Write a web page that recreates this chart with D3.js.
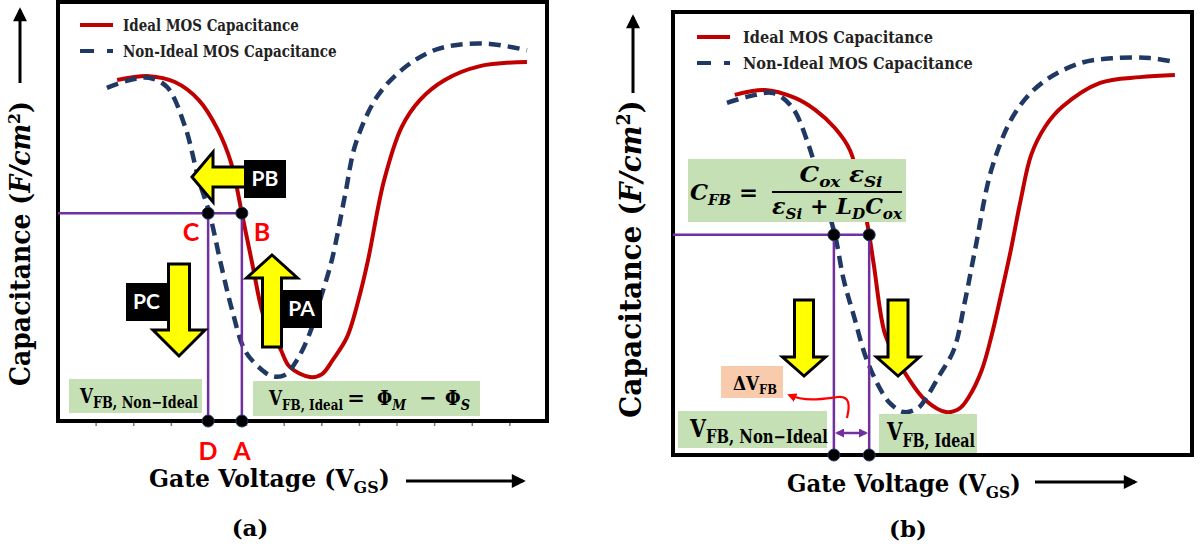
<!DOCTYPE html>
<html>
<head>
<meta charset="utf-8">
<script src="https://cdn.jsdelivr.net/npm/d3@7"></script>
<style>
body { margin: 0; background: #fff; }
svg { display: block; }
</style>
</head>
<body>
<script>
// C-V curves, gate voltage and capacitance both normalised to 0..100
// panel (a)
var idealA_v = [12.1, 18.6, 23.9, 28.8, 32.7, 35.4, 37.6, 39.7, 42.3, 45.4, 47.4, 51.5, 54.0, 56.2, 59.1, 61.8, 63.4, 66.7, 70.3, 74.0, 79.1, 86.3, 95.9];
var idealA_c = [81.4, 82.3, 80.9, 76.6, 69.5, 61.6, 49.6, 37.7, 24.1, 17.4, 12.9, 10.5, 11.2, 14.6, 20.0, 30.5, 38.4, 57.5, 70.2, 76.6, 81.4, 84.7, 85.7];
var nonIdealA_v = [10.0, 14.7, 18.6, 22.3, 26.0, 28.8, 30.9, 33.5, 35.6, 38.2, 41.3, 43.8, 46.4, 48.9, 51.5, 53.6, 56.0, 58.7, 60.9, 65.2, 70.3, 76.1, 81.2, 88.3, 95.9];
var nonIdealA_c = [79.5, 81.4, 81.9, 79.7, 70.2, 57.5, 49.9, 36.5, 26.5, 16.9, 12.6, 10.7, 11.0, 14.6, 21.0, 28.9, 38.4, 53.9, 66.3, 77.3, 83.8, 88.1, 89.7, 90.0, 88.5];
// panel (b)
var idealB_v = [11.9, 17.7, 23.5, 27.4, 31.2, 34.1, 36.4, 37.8, 38.7, 40.8, 43.0, 45.3, 48.6, 52.6, 55.3, 57.0, 59.5, 61.5, 63.4, 65.1, 67.0, 69.0, 71.7, 75.0, 82.3, 90.0, 96.7];
var idealB_c = [81.3, 82.4, 80.6, 77.9, 73.8, 68.8, 58.7, 49.7, 42.9, 27.5, 21.9, 17.4, 12.4, 9.7, 10.6, 13.1, 19.2, 27.5, 37.2, 46.3, 57.6, 67.7, 74.1, 78.6, 84.0, 85.3, 85.8];
var nonIdealB_v = [10.4, 14.8, 19.3, 22.9, 26.0, 28.5, 31.2, 32.9, 34.9, 37.0, 39.3, 41.8, 44.5, 47.2, 48.9, 51.4, 54.1, 56.3, 58.2, 61.5, 65.9, 71.1, 78.6, 85.2, 91.9, 96.7];
var nonIdealB_c = [79.5, 81.0, 81.7, 78.6, 70.4, 60.5, 49.7, 39.5, 31.2, 22.6, 16.3, 11.7, 9.7, 10.6, 13.1, 18.1, 23.7, 35.0, 46.3, 65.0, 77.2, 84.0, 88.5, 89.6, 89.6, 88.7];

// flat band points [V non-ideal, V ideal, C level]
var flatBandA = [30.7, 37.6, 49.6];
var flatBandB = [31.0, 37.8, 49.7];

// faint ticks under the bottom edge of panel (a)
var ticksA = d3.range(1, 13).map(function(k) { return k * 100 / 13; });

var legendLabels = ["Ideal MOS Capacitance", "Non-Ideal MOS Capacitance"];

var RED = "#c00000", BLUE = "#203864", PURPLE = "#7030a0", GREEN = "#c5e0b4", PEACH = "#f8cbad";
var SERIF = "'DejaVu Serif', 'Liberation Serif', serif";
var SANS = "Lato, 'Open Sans', 'Liberation Sans', sans-serif";

var svg = d3.select("body").append("svg").attr("width", 1200).attr("height", 547);
svg.append("rect").attr("width", 1200).attr("height", 547).attr("fill", "#fff");

var defs = svg.append("defs");
function addMarker(id, color, w, h) {
    defs.append("marker").attr("id", id)
        .attr("viewBox", "0 0 10 10").attr("refX", 8).attr("refY", 5)
        .attr("markerWidth", w).attr("markerHeight", h)
        .attr("markerUnits", "userSpaceOnUse")
        .attr("orient", "auto-start-reverse")
        .append("path").attr("d", "M0,0L10,5L0,10z").attr("fill", color);
}
addMarker("redHead", "red", 9, 9);
addMarker("purpleHead", PURPLE, 9, 9);
addMarker("blackHead", "#000", 16, 14);

// text with runs (sub / superscripts), squeezed horizontally to a given width
function richText(g, x, y, runs, opt) {
    opt = opt || {};
    var t = g.append("text").attr("x", x).attr("y", y)
        .attr("font-family", opt.font || SERIF).attr("font-weight", "bold")
        .attr("fill", opt.fill || "#000")
        .attr("text-anchor", opt.anchor || "start");
    runs.forEach(function(r) {
        var ts = t.append("tspan").text(r.t).attr("font-size", r.s);
        if (r.dy) ts.attr("dy", r.dy);
        if (r.i) ts.attr("font-style", "italic");
    });
    if (opt.len) {
        var w = t.node().getComputedTextLength();
        var sx = w > 0 ? opt.len / w : 1;
        t.attr("transform", "translate(" + x + "," + y + ") scale(" + sx + ",1) translate(" + (-x) + "," + (-y) + ")");
    }
    return t;
}

function blockArrow(g, tx, ty, dir, len, shaftW, headW, headLen) {
    var s = shaftW / 2, h = headW / 2;
    // built pointing down, then rotated
    var pts = [[0, 0], [-h, -headLen], [-s, -headLen], [-s, -len], [s, -len], [s, -headLen], [h, -headLen]];
    var ang = {down: 0, up: 180, left: 90, right: -90}[dir];
    g.append("polygon")
        .attr("points", pts.map(function(p) { return p.join(","); }).join(" "))
        .attr("transform", "translate(" + tx + "," + ty + ") rotate(" + ang + ")")
        .attr("fill", "#ffff00").attr("stroke", "#000").attr("stroke-width", 3)
        .attr("stroke-linejoin", "miter");
}

function tagBox(g, x, y, w, h, label) {
    g.append("rect").attr("x", x).attr("y", y).attr("width", w).attr("height", h).attr("fill", "#000");
    g.append("text").attr("x", x + w / 2).attr("y", y + h / 2 + 7)
        .attr("text-anchor", "middle").attr("font-family", SANS).attr("font-weight", "bold")
        .attr("font-size", 21).attr("fill", "#fff").text(label);
}

function fillBox(g, x, y, w, h, color) {
    g.append("rect").attr("x", x).attr("y", y).attr("width", w).attr("height", h).attr("fill", color);
}

function drawPanel(p) {
    var x = d3.scaleLinear().domain([0, 100]).range([p.x0, p.x1]);
    var y = d3.scaleLinear().domain([0, 100]).range([p.y1, p.y0]);
    var line = d3.line().x(function(d) { return x(d[0]); }).y(function(d) { return y(d[1]); })
        .curve(d3.curveCatmullRom.alpha(0.5));
    var g = svg.append("g");

    if (p.ticks) {
        g.append("g").attr("transform", "translate(0," + (p.y1 + 2) + ")")
            .call(d3.axisBottom(x).tickValues(p.ticks).tickSize(3).tickFormat(""))
            .call(function(a) {
                a.select(".domain").remove();
                a.selectAll("line").attr("stroke", "#777").attr("stroke-width", 1.5);
            });
    }

    g.append("rect").attr("x", p.x0).attr("y", p.y0)
        .attr("width", p.x1 - p.x0).attr("height", p.y1 - p.y0)
        .attr("fill", "none").attr("stroke", "#000").attr("stroke-width", 4);

    // legend
    var lg = g.append("g");
    lg.append("line").attr("x1", p.leg[0]).attr("x2", p.leg[0] + 33).attr("y1", p.leg[1]).attr("y2", p.leg[1])
        .attr("stroke", RED).attr("stroke-width", 4);
    lg.append("line").attr("x1", p.leg[0]).attr("x2", p.leg[0] + 33).attr("y1", p.leg[2]).attr("y2", p.leg[2])
        .attr("stroke", BLUE).attr("stroke-width", 4).attr("stroke-dasharray", "14,13");
    richText(lg, p.leg[3], p.leg[1] + 6, [{t: legendLabels[0], s: 16}], {len: p.legLen[0], fill: "#222"});
    richText(lg, p.leg[3], p.leg[2] + 6, [{t: legendLabels[1], s: 16}], {len: p.legLen[1], fill: "#222"});

    g.append("path").datum(d3.zip(p.idealV, p.idealC)).attr("d", line)
        .attr("fill", "none").attr("stroke", RED).attr("stroke-width", 4);
    g.append("path").datum(d3.zip(p.nonV, p.nonC)).attr("d", line)
        .attr("fill", "none").attr("stroke", BLUE).attr("stroke-width", 4.5)
        .attr("stroke-dasharray", "12,7");

    var fb = p.fb;
    g.append("path")
        .attr("d", "M" + p.x0 + "," + y(fb[2]) + "H" + x(fb[1]) +
            "M" + x(fb[0]) + "," + y(fb[2]) + "V" + y(0) +
            "M" + x(fb[1]) + "," + y(fb[2]) + "V" + y(0))
        .attr("fill", "none").attr("stroke", PURPLE).attr("stroke-width", 2.5);

    return {x: x, y: y, g: g};
}

function drawDots(P, fb) {
    var pts = [[fb[0], fb[2]], [fb[1], fb[2]], [fb[0], 0], [fb[1], 0]];
    P.g.selectAll("circle.fb").data(pts).enter().append("circle").attr("class", "fb")
        .attr("cx", function(d) { return P.x(d[0]); }).attr("cy", function(d) { return P.y(d[1]); })
        .attr("r", 6).attr("fill", "#000").attr("stroke", BLUE).attr("stroke-width", 1);
}

function yLabel(tx, ty, size, len, arrowX, arrowTop, arrowBottom) {
    var g = svg.append("g").attr("transform", "translate(" + tx + "," + ty + ") rotate(-90)");
    richText(g, 0, 0, [
        {t: "Capacitance\u00a0(", s: size},
        {t: "F/cm", s: size, i: true},
        {t: "2", s: size * 0.62, dy: -size * 0.38},
        {t: ")", s: size, dy: size * 0.38}
    ], {len: len});
    svg.append("line").attr("x1", arrowX).attr("x2", arrowX).attr("y1", arrowBottom).attr("y2", arrowTop + 2)
        .attr("stroke", "#000").attr("stroke-width", 3).attr("marker-end", "url(#blackHead)");
}

function xLabel(x, y, len, arrowX0, arrowX1, arrowY) {
    richText(svg, x, y, [
        {t: "Gate Voltage (V", s: 25},
        {t: "GS", s: 17, dy: 6},
        {t: ")", s: 25, dy: -6}
    ], {len: len});
    svg.append("line").attr("x1", arrowX0).attr("x2", arrowX1 - 2).attr("y1", arrowY).attr("y2", arrowY)
        .attr("stroke", "#000").attr("stroke-width", 3).attr("marker-end", "url(#blackHead)");
}

// ---------------- panel (a)
var A = drawPanel({
    x0: 58, x1: 547, y0: 2, y1: 421,
    idealV: idealA_v, idealC: idealA_c, nonV: nonIdealA_v, nonC: nonIdealA_c,
    fb: flatBandA, ticks: ticksA,
    leg: [80, 25, 51, 123], legLen: [176, 214]
});

blockArrow(A.g, 192, 177, "left", 58, 20, 50, 21);
tagBox(A.g, 244, 160, 42, 38, "PB");
blockArrow(A.g, 179, 356, "down", 92, 21, 52, 26);
tagBox(A.g, 126, 283, 41, 38, "PC");
blockArrow(A.g, 272, 255, "up", 92, 19, 51, 23);
tagBox(A.g, 281, 290, 41, 38, "PA");

fillBox(A.g, 69, 379, 133, 34, GREEN);
richText(A.g, 80, 403, [{t: "V", s: 21}, {t: "FB,\u00a0Non\u2212Ideal", s: 16, dy: 5}], {len: 118});
fillBox(A.g, 253, 381, 227, 35, GREEN);
// V_FB,Ideal = Phi_M - Phi_S, one piece per term
richText(A.g, 269, 405, [{t: "V", s: 21}, {t: "FB,\u00a0Ideal", s: 15, dy: 5}], {len: 74});
richText(A.g, 356, 405, [{t: "=", s: 21}], {anchor: "middle"});
richText(A.g, 377, 405, [{t: "\u03a6", s: 21}, {t: "M", s: 15, dy: 5, i: true}], {len: 29});
richText(A.g, 428, 405, [{t: "\u2212", s: 21}], {anchor: "middle"});
richText(A.g, 445, 405, [{t: "\u03a6", s: 21}, {t: "S", s: 15, dy: 5, i: true}], {len: 25});

drawDots(A, flatBandA);

var letterPos = [["C", flatBandA[0], -17, 19], ["B", flatBandA[1], 20, 19], ["D", flatBandA[0], 0, -30], ["A", flatBandA[1], 0, -30]];
letterPos.forEach(function(l) {
    var cy = l[0] === "C" || l[0] === "B" ? A.y(flatBandA[2]) + l[3] : A.y(0) - l[3];
    A.g.append("text").attr("x", A.x(l[1]) + l[2]).attr("y", cy + 9)
        .attr("text-anchor", "middle").attr("font-family", SANS).attr("font-weight", "bold")
        .attr("font-size", 25).attr("fill", "#ff0000").text(l[0]);
});

yLabel(30, 386, 27, 285, 20, 8, 83);
xLabel(149, 487, 241, 406, 525, 481);
svg.append("text").attr("x", 250).attr("y", 536).attr("text-anchor", "middle")
    .attr("font-family", SERIF).attr("font-weight", "bold").attr("font-size", 23).text("(a)");

// ---------------- panel (b)
var B = drawPanel({
    x0: 673, x1: 1192, y0: 12, y1: 455,
    idealV: idealB_v, idealC: idealB_c, nonV: nonIdealB_v, nonC: nonIdealB_c,
    fb: flatBandB,
    leg: [697, 37, 63, 743], legLen: [190, 230]
});

blockArrow(B.g, 804, 376, "down", 76, 19, 43, 19);
blockArrow(B.g, 898, 376, "down", 76, 20, 43, 19);

// C_FB formula
fillBox(B.g, 688, 159, 218, 63, GREEN);
richText(B.g, 690, 200, [{t: "C", s: 23, i: true}, {t: "FB", s: 15, dy: 5, i: true}, {t: "\u00a0=", s: 23, dy: -5}], {len: 68});
richText(B.g, 841, 182, [
    {t: "C", s: 22, i: true}, {t: "ox", s: 15, dy: 5, i: true},
    {t: "\u00a0\u03b5", s: 22, dy: -5, i: true}, {t: "Si", s: 15, dy: 5, i: true}
], {len: 83, anchor: "middle"});
B.g.append("line").attr("x1", 772).attr("x2", 902).attr("y1", 192).attr("y2", 192)
    .attr("stroke", "#000").attr("stroke-width", 2);
richText(B.g, 837, 214, [
    {t: "\u03b5", s: 22, i: true}, {t: "Si", s: 15, dy: 5, i: true},
    {t: "\u00a0+\u00a0", s: 22, dy: -5}, {t: "L", s: 22, i: true}, {t: "D", s: 15, dy: 5, i: true},
    {t: "C", s: 22, dy: -5, i: true}, {t: "ox", s: 15, dy: 5, i: true}
], {len: 130, anchor: "middle"});

fillBox(B.g, 678, 411, 149, 37, GREEN);
richText(B.g, 690, 437, [{t: "V", s: 25}, {t: "FB,\u00a0Non\u2212Ideal", s: 18, dy: 6}], {len: 138});
fillBox(B.g, 879, 414, 98, 39, GREEN);
richText(B.g, 887, 440, [{t: "V", s: 25}, {t: "FB,\u00a0Ideal", s: 18, dy: 7}], {len: 88});

fillBox(B.g, 721, 366, 62, 32, PEACH);
richText(B.g, 733, 390, [{t: "\u0394V", s: 19}, {t: "FB", s: 13, dy: 4}], {len: 44});

// delta V_FB double arrow and pointer
B.g.append("line").attr("x1", B.x(flatBandB[0]) + 3).attr("x2", B.x(flatBandB[1]) - 3)
    .attr("y1", 433).attr("y2", 433)
    .attr("stroke", PURPLE).attr("stroke-width", 2.5)
    .attr("marker-start", "url(#purpleHead)").attr("marker-end", "url(#purpleHead)");
B.g.append("path").attr("d", "M847,418C850,405 850,396 838,397C822,399 806,402 789,395")
    .attr("fill", "none").attr("stroke", "red").attr("stroke-width", 2.2)
    .attr("marker-end", "url(#redHead)");

drawDots(B, flatBandB);

yLabel(641, 418, 29, 318, 633, 15, 93);
xLabel(787, 492, 234, 1035, 1137, 482);
svg.append("text").attr("x", 908).attr("y", 537).attr("text-anchor", "middle")
    .attr("font-family", SERIF).attr("font-weight", "bold").attr("font-size", 23).text("(b)");
</script>
</body>
</html>
